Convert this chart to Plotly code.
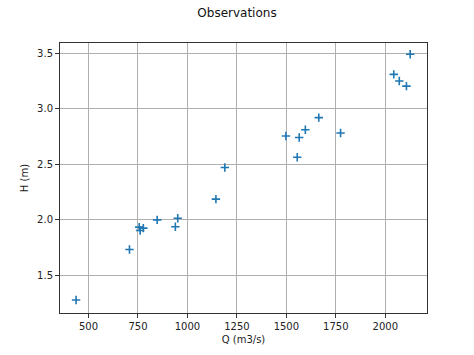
import plotly.graph_objects as go

Q = [437, 707, 756, 761, 777, 847, 939, 951, 1144, 1189, 1498, 1555, 1565, 1596, 1664, 1774, 2043, 2071, 2107, 2126]
H = [1.274, 1.730, 1.933, 1.902, 1.924, 1.998, 1.936, 2.013, 2.186, 2.472, 2.756, 2.564, 2.743, 2.812, 2.922, 2.783, 3.313, 3.253, 3.206, 3.495]

x_ticks = [500, 750, 1000, 1250, 1500, 1750, 2000]
y_ticks = [1.5, 2.0, 2.5, 3.0, 3.5]

fig = go.Figure()
fig.add_trace(go.Scatter(
    x=Q, y=H, mode="markers",
    marker=dict(symbol="cross-thin", size=6, line=dict(color="#1f77b4", width=1.6), color="#1f77b4"),
    showlegend=False, hoverinfo="skip",
))

font = "DejaVu Sans, sans-serif"
axis_common = dict(
    showline=True, mirror=True, linecolor="#333333", linewidth=1,
    showgrid=True, gridcolor="#b0b0b0", gridwidth=0.8,
    ticks="outside", ticklen=4, tickcolor="#333333",
    zeroline=False, tickfont=dict(family=font, size=10, color="#222222"),
)
fig.update_layout(
    width=474, height=355,
    margin=dict(l=60, r=47, t=43, b=39),
    paper_bgcolor="white", plot_bgcolor="white",
    title=dict(text="Observations", x=0.5, xanchor="center", y=0.965, yanchor="middle",
               font=dict(family=font, size=12, color="#111111")),
    font=dict(family=font),
    hovermode=False,
)
fig.update_xaxes(range=[355.8, 2211], tickvals=x_ticks, ticktext=[str(v) for v in x_ticks],
                 title=dict(text="Q (m3/s)", font=dict(family=font, size=10, color="#222222"), standoff=4),
                 **axis_common)
fig.update_yaxes(range=[1.157, 3.596], tickvals=y_ticks, ticktext=[f"{v:.1f}" for v in y_ticks],
                 title=dict(text="H (m)", font=dict(family=font, size=10, color="#222222"), standoff=6),
                 **axis_common)

fig.write_html("out.html", config={"displayModeBar": False},
               post_script="document.body.style.margin='0';")
